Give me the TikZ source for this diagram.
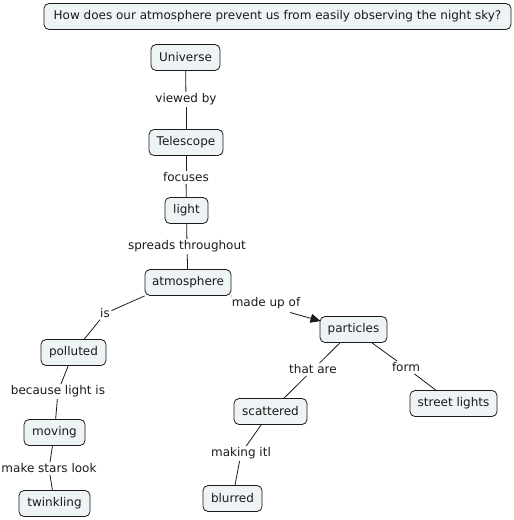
\documentclass[tikz,border=0pt]{standalone}
\usepackage{fontspec}
\setmainfont{DejaVu Sans}
\usetikzlibrary{arrows.meta,calc}
\definecolor{boxfill}{HTML}{EEF3F5}
\definecolor{ink}{HTML}{1A1A1A}
\begin{document}
\begin{tikzpicture}[x=1pt,y=-1pt,
  concept/.style={draw=ink,fill=boxfill,rounded corners=5pt,line width=0.8pt,
    inner xsep=4pt,minimum height=26pt,font=\fontsize{12}{14}\selectfont,text=ink},
  linklabel/.style={inner sep=1.5pt,font=\fontsize{12}{14}\selectfont,text=ink},
  link/.style={draw=ink,line width=0.8pt},
  every node/.append style={anchor=center}]
\useasboundingbox (0,0) rectangle (514,520);
\node[concept,minimum width=467pt] (q) at (277.5,16.5) {How does our atmosphere prevent us from easily observing the night sky?};
\node[concept,minimum width=69pt] (universe) at (185.5,57.5) {Universe};
\node[linklabel] (l1) at (186,99.5) {viewed by};
\node[concept,minimum width=74pt] (telescope) at (186,142.5) {Telescope};
\node[linklabel] (l2) at (186,177.5) {focuses};
\node[concept,minimum width=43pt] (light) at (186.5,210.5) {light};
\node[linklabel] (l3) at (187,246.5) {spreads throughout};
\node[concept,minimum width=86pt] (atmosphere) at (188,282.5) {atmosphere};
\node[linklabel] (l4) at (105,313.5) {is};
\node[linklabel] (l5) at (266,303.5) {made up of};
\node[concept,minimum width=67pt] (particles) at (353.5,329.5) {particles};
\node[concept,minimum width=65pt] (polluted) at (73.5,352.5) {polluted};
\node[linklabel] (l6) at (58,391.5) {because light is};
\node[concept,minimum width=61pt] (moving) at (54.5,432.5) {moving};
\node[linklabel] (l7) at (49,468.5) {make stars look};
\node[concept,minimum width=71pt] (twinkling) at (54.5,503.5) {twinkling};
\node[linklabel] (l8) at (313,369.5) {that are};
\node[linklabel] (l9) at (406,367.5) {form};
\node[concept,minimum width=87pt] (street) at (453.5,403.5) {street lights};
\node[concept,minimum width=73pt] (scattered) at (270.5,411.5) {scattered};
\node[linklabel] (l10) at (241,453.5) {making itl};
\node[concept,minimum width=59pt] (blurred) at (232.5,498.5) {blurred};
\coordinate (l5out) at (290,312.5);
\coordinate (ptip) at (320.5,321);

\draw[link] (universe) -- (l1);
\draw[link] (l1) -- (telescope);
\draw[link] (telescope) -- (l2);
\draw[link] (l2) -- (light);
\draw[link] (light) -- (l3);
\draw[link] (l3) -- (atmosphere);
\draw[link] (atmosphere.south west) -- (l4);
\draw[link] (l4) -- (polluted);
\draw[link] (atmosphere.south east) -- (l5);
\draw[link,-{Triangle[length=10pt,width=9pt]}] (l5out) -- (ptip);
\draw[link] (polluted) -- (l6);
\draw[link] (l6) -- (moving);
\draw[link] (moving) -- (l7);
\draw[link] (l7) -- (twinkling);
\draw[link] (particles) -- (l8);
\draw[link] (l8) -- (scattered);
\draw[link] (particles) -- (l9);
\draw[link] (l9) -- (street);
\draw[link] (scattered) -- (l10);
\draw[link] (l10) -- (blurred);
\end{tikzpicture}
\end{document}
